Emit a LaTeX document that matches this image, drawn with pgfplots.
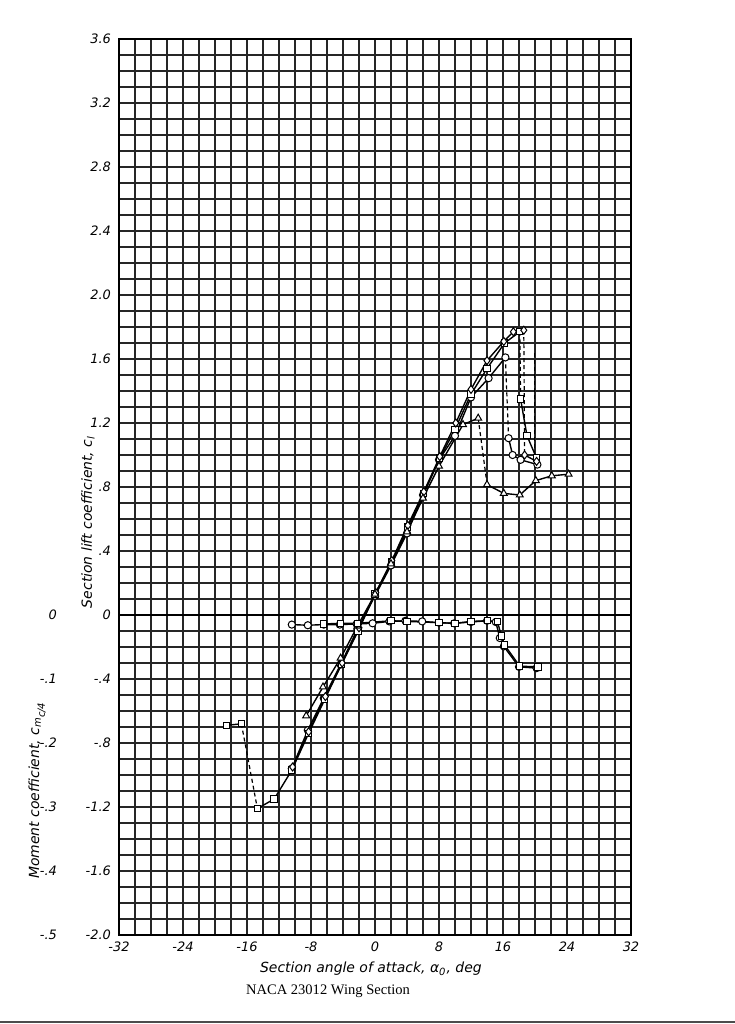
\documentclass[border=0pt]{standalone}
\usepackage{fontspec}
\setmainfont{DejaVu Sans}
\newfontfamily\capfont{Liberation Serif}
\usepackage{pgfplots}
\pgfplotsset{compat=1.18}
\begin{document}
\begin{tikzpicture}
\path[use as bounding box] (0,0) rectangle (367.5bp,512bp);
\pgfplotsset{
  naca/.style={
    at={(59.5bp,44.5bp)}, anchor=south west,
    scale only axis, width=256bp, height=448bp,
    xmin=-32, xmax=32,
    major tick length=0pt, minor tick length=0pt,
    tick label style={font=\fontsize{6.5}{7.5}\selectfont\itshape},
    label style={font=\fontsize{7}{8}\selectfont\itshape},
  },
  pt/.style={line width=0.7bp, black, mark options={solid, fill=white, line width=0.5bp}},
  circ/.style={pt, mark=*, mark size=1.8bp},
  sq/.style={pt, mark=square*, mark size=1.6bp},
  dia/.style={pt, mark=diamond*, mark size=2.0bp},
  tri/.style={pt, mark=triangle*, mark size=2.0bp},
  stall/.style={line width=0.6bp, black, dash pattern=on 2bp off 1.5bp, no marks},
}
% lift coefficient
\begin{axis}[naca,
  ymin=-2.0, ymax=3.6,
  xtick={-32,-24,-16,-8,0,8,16,24,32},
  xticklabels={-32,-24,-16,-8,0,8,16,24,32},
  ytick={-2.0,-1.6,-1.2,-0.8,-0.4,0,0.4,0.8,1.2,1.6,2.0,2.4,2.8,3.2,3.6},
  yticklabels={-2.0,-1.6,-1.2,-.8,-.4,0,.4,.8,1.2,1.6,2.0,2.4,2.8,3.2,3.6},
  yticklabel style={xshift=-0.5bp},
  minor x tick num=3, minor y tick num=3,
  grid=both,
  grid style={black!85, line width=0.75bp},
  axis line style={line width=1.1bp},
  extra y ticks={0}, extra y tick labels={},
  extra y tick style={grid style={black, line width=1.4bp}},
  xlabel={Section angle of attack, α\textsubscript{0}, deg},
  xlabel style={at={(axis description cs:0.492,-0.038)}, anchor=center},
  ylabel={Section lift coefficient, c\textsubscript{l}},
  ylabel style={at={(axis description cs:-0.0605,0.461)}, anchor=center},
]
% circles
\addplot[circ] coordinates {
  (-10.4,-0.96)(-8.4,-0.72)(-6.4,-0.52)(-4.3,-0.31)(-2.2,-0.09)(0,0.12)(2,0.31)
  (4,0.51)(6,0.75)(8,0.97)(10,1.12)(12,1.36)(14.2,1.48)(16.3,1.61)};
\addplot[stall] coordinates {(16.3,1.61)(16.7,1.105)};
\addplot[circ] coordinates {(16.7,1.105)(17.2,1.00)(18.2,0.97)(20.3,0.94)};
% squares
\addplot[sq] coordinates {(-18.6,-0.69)(-16.7,-0.68)};
\addplot[stall] coordinates {(-16.7,-0.68)(-14.7,-1.21)};
\addplot[sq] coordinates {
  (-14.7,-1.21)(-12.6,-1.15)(-10.4,-0.97)(-8.3,-0.74)(-6.3,-0.53)(-4.2,-0.31)
  (-2.1,-0.10)(0,0.13)(2.1,0.33)(4.1,0.55)(6.1,0.76)(8.1,0.98)(10,1.16)(12,1.38)
  (14,1.54)(16.2,1.70)(18.1,1.77)};
\addplot[stall] coordinates {(18.1,1.77)(18.2,1.35)};
\addplot[sq] coordinates {(18.2,1.35)(19.0,1.12)(20.2,0.98)};
% diamonds
\addplot[dia] coordinates {
  (-10.3,-0.95)(-8.3,-0.73)(-6.2,-0.51)(-4.1,-0.30)(-2.0,-0.08)(0.1,0.14)(2.1,0.34)
  (4.1,0.56)(6.1,0.77)(8.1,0.99)(10.1,1.20)(12,1.41)(14,1.59)(16.1,1.71)(17.3,1.77)(18.6,1.78)};
\addplot[stall] coordinates {(18.6,1.78)(18.7,1.00)};
\addplot[dia] coordinates {(18.7,1.00)(20.2,0.96)};
\addplot[stall] coordinates {(19.9,1.64)(19.9,1.0)};
% triangles
\addplot[tri] coordinates {
  (-8.6,-0.63)(-6.5,-0.45)(-4.3,-0.27)(-2.2,-0.07)(0,0.13)(2,0.32)(4,0.52)(6,0.73)
  (8,0.93)(11.0,1.19)(12.9,1.23)};
\addplot[stall] coordinates {(12.9,1.23)(14.0,0.82)};
\addplot[tri] coordinates {
  (14.0,0.815)(16.1,0.76)(18.1,0.75)(20.1,0.84)(22.1,0.87)(24.2,0.88)};
\end{axis}
% moment coefficient, on a scale one quarter of c_l
\begin{axis}[naca,
  ymin=-0.5, ymax=0.9,
  axis x line=none, axis y line*=left, y axis line style={draw=none},
  ytick={-0.5,-0.4,-0.3,-0.2,-0.1,0},
  yticklabels={-.5,-.4,-.3,-.2,-.1,0},
  yticklabel style={xshift=-27.5bp},
  ylabel={Moment coefficient, c\textsubscript{m\textsubscript{c/4}}},
  ylabel style={at={(axis description cs:-0.160,0.162)}, anchor=center},
]
\addplot[circ] coordinates {
  (-10.4,-0.015)(-8.4,-0.016)(-6.4,-0.015)(-4.4,-0.015)(-2.3,-0.014)(-0.3,-0.013)
  (1.8,-0.010)(3.8,-0.009)(5.9,-0.010)(8.0,-0.012)(9.9,-0.013)(12.0,-0.011)
  (14.0,-0.009)(15.1,-0.011)(15.6,-0.036)(16.1,-0.049)(18.0,-0.081)(20.2,-0.083)};
\addplot[sq] coordinates {
  (-6.4,-0.014)(-4.3,-0.013)(-2.2,-0.013)(2,-0.009)(4,-0.010)(8.0,-0.012)
  (10.0,-0.013)(12,-0.010)(14.1,-0.009)(15.3,-0.010)(15.8,-0.033)(16.2,-0.047)
  (18.1,-0.080)(20.4,-0.081)};
\end{axis}
\node[font=\capfont\fontsize{7.3}{8.5}\selectfont] at (164bp,16.5bp) {NACA 23012 Wing Section};
\draw[line width=1.2bp, black!70] (0,1bp) -- (367.5bp,1bp);
\end{tikzpicture}
\end{document}
